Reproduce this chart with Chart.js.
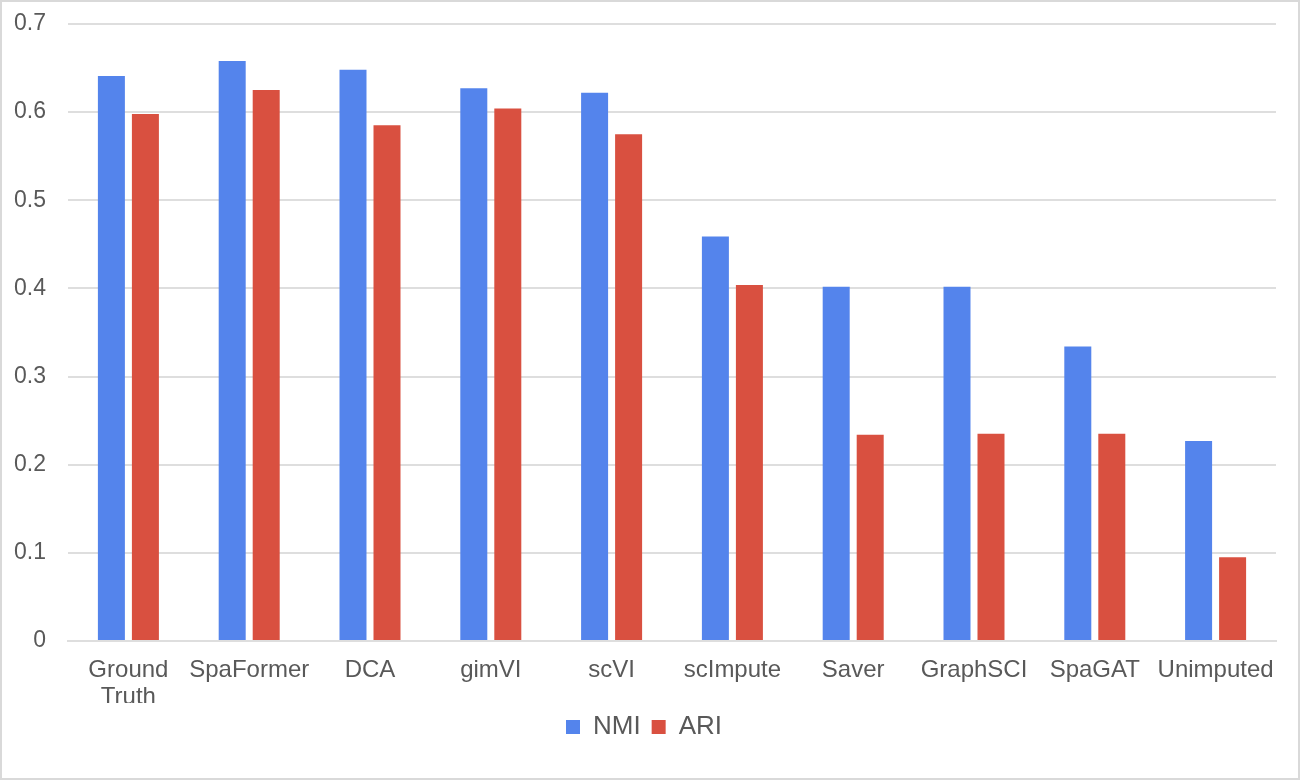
<!DOCTYPE html>
<html>
<head>
<meta charset="utf-8">
<script src="https://cdn.jsdelivr.net/npm/chart.js@4.4.1/dist/chart.umd.min.js"></script>
<style>
html,body{margin:0;padding:0;background:#fff;}
#wrap{position:relative;width:1300px;height:780px;}
canvas{display:block;}
</style>
</head>
<body>
<div id="wrap"><canvas id="c" width="1300" height="780"></canvas></div>
<script>
const categories = [['Ground','Truth'],'SpaFormer','DCA','gimVI','scVI','scImpute','Saver','GraphSCI','SpaGAT','Unimputed'];
const nmiValues = [0.641, 0.658, 0.648, 0.627, 0.622, 0.459, 0.402, 0.402, 0.334, 0.227];
const ariValues = [0.598, 0.625, 0.585, 0.604, 0.575, 0.404, 0.234, 0.235, 0.235, 0.095];
const yTicks = [0, 0.1, 0.2, 0.3, 0.4, 0.5, 0.6, 0.7];

const borderPlugin = {
  id: 'frame',
  afterDraw(chart) {
    const ctx = chart.ctx;
    ctx.save();
    ctx.strokeStyle = '#d9d9d9';
    ctx.lineWidth = 2;
    ctx.strokeRect(1, 1, chart.width - 2, chart.height - 2);
    ctx.restore();
  }
};

const FONT = '"Liberation Sans", Arial, sans-serif';

new Chart(document.getElementById('c'), {
  type: 'bar',
  data: {
    labels: categories,
    datasets: [
      { label: 'NMI', data: nmiValues, backgroundColor: '#5484ec', barPercentage: 0.794, categoryPercentage: 0.563 },
      { label: 'ARI', data: ariValues, backgroundColor: '#d95040', barPercentage: 0.794, categoryPercentage: 0.563 }
    ]
  },
  options: {
    responsive: false,
    animation: false,
    devicePixelRatio: 1,
    layout: { padding: { left: 12, right: 24, top: 24, bottom: 30 } },
    plugins: {
      legend: {
        position: 'bottom',
        labels: {
          boxWidth: 14, boxHeight: 14, padding: 11,
          color: '#595959',
          font: { family: FONT, size: 26 }
        }
      },
      tooltip: { enabled: false }
    },
    scales: {
      x: {
        grid: { display: false, drawTicks: false },
        border: { display: true, color: '#dedede', width: 2 },
        afterFit(axis) { axis.height = 62; },
        ticks: {
          color: '#595959', padding: 16, maxRotation: 0, autoSkip: false,
          font: { family: FONT, size: 24, lineHeight: 1.125 }
        }
      },
      y: {
        min: 0, max: 0.7,
        afterBuildTicks(axis) { axis.ticks = yTicks.map(v => ({ value: v })); },
        afterFit(axis) { axis.width = 56; axis.paddingTop = 0; axis.paddingBottom = 0; },
        grid: { color: '#dedede', lineWidth: 2, drawTicks: false },
        border: { display: false },
        ticks: {
          color: '#595959', padding: 22,
          font: { family: FONT, size: 23 },
          callback: v => String(Math.round(v * 10) / 10)
        }
      }
    }
  },
  plugins: [borderPlugin]
});
</script>
</body>
</html>
